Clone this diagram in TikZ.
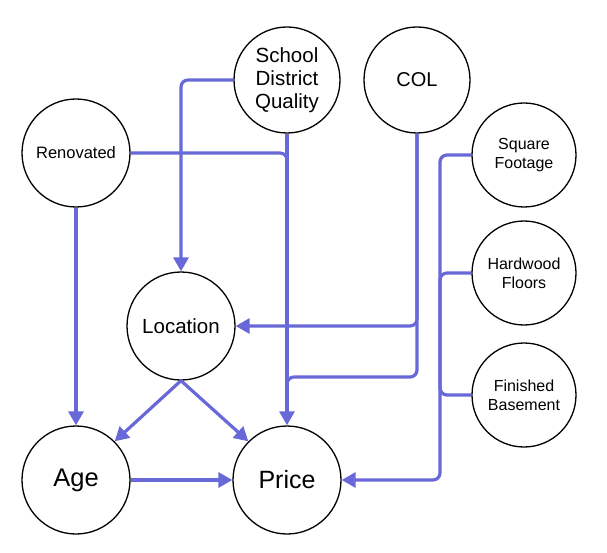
\documentclass[tikz,border=0pt]{standalone}
\usepackage{fontspec}
\setmainfont{Liberation Sans}
\usetikzlibrary{arrows.meta}
\definecolor{edge}{RGB}{104,104,216}
\begin{document}
\begin{tikzpicture}[x=1pt,y=-1pt,
  circ/.style={circle,draw=black,line width=1.3pt,fill=white,minimum size=108pt,inner sep=0pt,align=center},
  conn/.style={draw=edge,line width=3.2pt,rounded corners=7pt},
  arr/.style={conn,-{Triangle[length=14pt,width=15pt]}}]
\useasboundingbox (0,0) rectangle (607,553);
\node[circ,minimum size=106pt,font=\fontsize{20.5}{23}\selectfont] (sch) at (287,80) {School\\District\\Quality};
\node[circ,minimum size=106pt,font=\fontsize{20}{23}\selectfont] (col) at (417,80) {COL};
\node[circ,font=\fontsize{16.5}{19}\selectfont] (ren) at (76,153) {Renovated};
\node[circ,minimum size=104pt,font=\fontsize{16}{19}\selectfont] (sq) at (524,155) {Square\\Footage};
\node[circ,minimum size=104pt,font=\fontsize{16}{19}\selectfont] (hw) at (524,273) {Hardwood\\Floors};
\node[circ,minimum size=104pt,font=\fontsize{16}{19}\selectfont] (fb) at (524,395) {Finished\\Basement};
\node[circ,font=\fontsize{20.5}{23}\selectfont] (loc) at (181,326) {Location};
\node[circ,font=\fontsize{25.5}{28}\selectfont] (age) at (76,480) {Age};
\node[circ,font=\fontsize{25}{28}\selectfont] (pr) at (287,480) {Price};
\coordinate (j1) at (287,230);
\coordinate (j2) at (287,410);
\coordinate (j3) at (440,330);
\path[conn] (ren.east) -| (j1);
\path[conn] (col.south) -- (417,377) -- (287,377) -- (j2);
\path[conn] (hw.west) -- (440,273) -- (j3);
\path[conn] (fb.west) -- (440,395) -- (j3);
\path[arr] (sch.west) -| (loc.north);
\path[arr] (sch.south) -- (pr.north);
\path[arr] (ren.south) -- (age.north);
\path[arr] (col.south) |- (loc.east);
\path[arr] (sq.west) -- (440,155) -- (440,480) -- (pr.east);
\path[arr] (loc.south) -- (age.north east);
\path[arr] (loc.south) -- (pr.north west);
\path[arr] (age.east) -- (pr.west);
\end{tikzpicture}
\end{document}
